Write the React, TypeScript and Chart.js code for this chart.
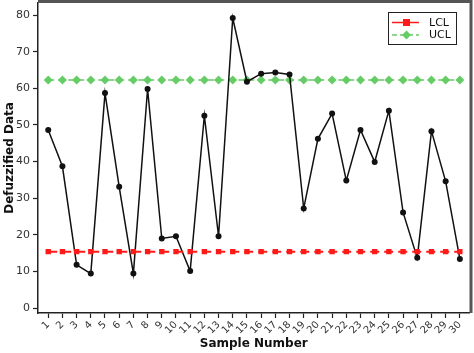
import React, { useEffect, useRef } from "react";
import { Chart, registerables } from "chart.js";

Chart.register(...registerables);

const sampleNumbers = Array.from({ length: 30 }, (_, i) => i + 1);
const defuzzified = [
  48.6, 38.7, 11.8, 9.4, 58.7, 33.1, 9.4, 59.8, 19.0, 19.6,
  10.1, 52.5, 19.6, 79.2, 61.8, 64.0, 64.3, 63.8, 27.2, 46.2,
  53.1, 34.8, 48.6, 39.9, 53.9, 26.1, 13.7, 48.3, 34.6, 13.4,
];
const lclValue = 15.4;
const uclValue = 62.3;
const yTicks = [0, 10, 20, 30, 40, 50, 60, 70, 80];

const FONT = "'DejaVu Sans', Verdana, sans-serif";

const framePlugin = {
  id: "frame",
  afterDraw(chart: any) {
    const { ctx, chartArea } = chart;
    ctx.save();
    ctx.strokeStyle = "#555";
    ctx.lineWidth = 3;
    ctx.beginPath();
    ctx.moveTo(chartArea.left, chartArea.top - 1.5);
    ctx.lineTo(chartArea.right + 1.5, chartArea.top - 1.5);
    ctx.lineTo(chartArea.right + 1.5, chartArea.bottom);
    ctx.stroke();

    // legend box
    const bx = 388, by = 12, bw = 68, bh = 32;
    ctx.fillStyle = "#fff";
    ctx.fillRect(bx, by, bw, bh);
    ctx.strokeStyle = "#222";
    ctx.lineWidth = 1;
    ctx.strokeRect(bx + 0.5, by + 0.5, bw, bh);

    ctx.font = `11px ${FONT}`;
    ctx.textBaseline = "middle";
    ctx.textAlign = "left";

    // LCL
    let y = 22.5;
    ctx.strokeStyle = "#ff1a1a";
    ctx.lineWidth = 1.5;
    ctx.setLineDash([]);
    ctx.beginPath();
    ctx.moveTo(392, y);
    ctx.lineTo(419, y);
    ctx.stroke();
    ctx.fillStyle = "#ff1a1a";
    ctx.fillRect(403, y - 3.5, 7, 7);
    ctx.fillStyle = "#111";
    ctx.fillText("LCL", 429, y + 0.5);

    // UCL
    y = 35;
    ctx.strokeStyle = "#66cc66";
    ctx.lineWidth = 1.5;
    ctx.setLineDash([5, 3]);
    ctx.beginPath();
    ctx.moveTo(392, y);
    ctx.lineTo(419, y);
    ctx.stroke();
    ctx.setLineDash([]);
    ctx.fillStyle = "#66cc66";
    ctx.beginPath();
    ctx.moveTo(406.5, y - 4.5);
    ctx.lineTo(411, y);
    ctx.lineTo(406.5, y + 4.5);
    ctx.lineTo(402, y);
    ctx.closePath();
    ctx.fill();
    ctx.fillStyle = "#111";
    ctx.fillText("UCL", 429, y + 0.5);
    ctx.restore();
  },
};

export default function App() {
  const ref = useRef<HTMLCanvasElement | null>(null);
  useEffect(() => {
    if (!ref.current) return;
    const chart = new Chart(ref.current, {
      type: "line",
      data: {
        datasets: [
          {
            label: "LCL",
            data: sampleNumbers.map((x) => ({ x, y: lclValue })),
            borderColor: "#ff1a1a",
            backgroundColor: "#ff1a1a",
            borderWidth: 2,
            borderDash: [9, 5],
            pointStyle: "rect",
            pointRadius: 3.8,
            pointBorderWidth: 0,
            order: 0,
          },
          {
            label: "Data",
            data: sampleNumbers.map((x, i) => ({ x, y: defuzzified[i] })),
            borderColor: "#111",
            backgroundColor: "#111",
            borderWidth: 1.5,
            pointRadius: 3,
            pointBorderWidth: 0,
            order: 1,
          },
          {
            label: "UCL",
            data: sampleNumbers.map((x) => ({ x, y: uclValue })),
            borderColor: "#66cc66",
            backgroundColor: "#66cc66",
            borderWidth: 1.5,
            borderDash: [6, 4],
            pointStyle: "rectRot",
            pointRadius: 4.5,
            pointBorderWidth: 0,
            order: 2,
          },
        ],
      },
      options: {
        animation: false,
        responsive: false,
        maintainAspectRatio: false,
        layout: { padding: { top: 3, right: 3, left: 3, bottom: 0 } },
        plugins: { legend: { display: false }, tooltip: { enabled: false } },
        scales: {
          x: {
            type: "linear",
            min: 0.28,
            max: 30.68,
            afterBuildTicks: (s: any) => {
              s.ticks = sampleNumbers.map((v) => ({ value: v }));
            },
            afterFit: (s: any) => {
              s.height = 40;
              s.paddingLeft = 0;
              s.paddingRight = 0;
            },
            grid: {
              drawOnChartArea: false,
              drawTicks: true,
              tickLength: 5,
              color: "#222",
              tickWidth: 1.2,
            },
            border: { color: "#222", width: 1.5 },
            ticks: {
              autoSkip: false,
              minRotation: 45,
              maxRotation: 45,
              padding: 1,
              color: "#333",
              font: { family: FONT, size: 10 },
              callback: (v: any) => String(v),
            },
            title: {
              display: true,
              text: "Sample Number",
              color: "#111",
              font: { family: FONT, size: 12, weight: "bold" },
              padding: { top: 0, bottom: 2 },
            },
          },
          y: {
            type: "linear",
            min: -1.36,
            max: 83.3,
            afterBuildTicks: (s: any) => {
              s.ticks = yTicks.map((v) => ({ value: v }));
            },
            afterFit: (s: any) => {
              s.width = 35;
              s.paddingTop = 0;
              s.paddingBottom = 0;
            },
            afterLayout: undefined,
            grid: {
              drawOnChartArea: false,
              drawTicks: true,
              tickLength: 5,
              color: "#222",
              tickWidth: 1.2,
            },
            border: { color: "#222", width: 1.5 },
            ticks: {
              padding: 3,
              color: "#333",
              font: { family: FONT, size: 11 },
            },
            title: {
              display: true,
              text: "Defuzzified Data",
              color: "#111",
              font: { family: FONT, size: 12, weight: "bold" },
              padding: { top: 0, bottom: 0 },
            },
          },
        },
      },
      plugins: [
        {
          id: "areaFix",
          afterLayout(chart: any) {
            const ca = chart.chartArea;
            ca.top = 3;
            ca.height = ca.bottom - ca.top;
            const y = chart.scales.y;
            y.top = 3;
            y.height = y.bottom - y.top;
            y.configure();
          },
        },
        framePlugin,
      ],
    } as any);
    return () => chart.destroy();
  }, []);
  return (
    <div style={{ position: "fixed", left: 0, top: 0, width: 474, height: 353, background: "#fff" }}>
      <canvas ref={ref} width={474} height={353} style={{ width: 474, height: 353 }} />
    </div>
  );
}
